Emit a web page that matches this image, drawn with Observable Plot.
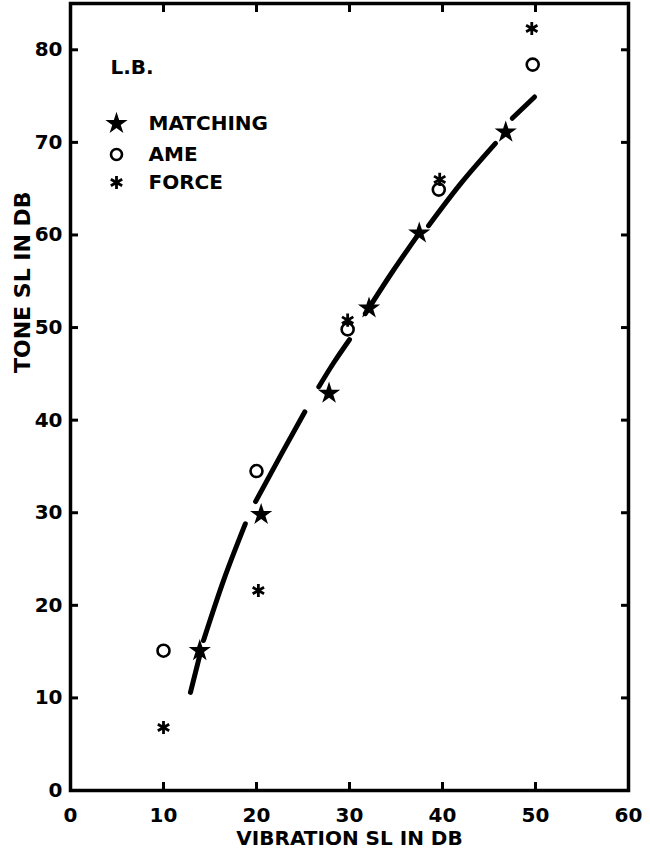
<!DOCTYPE html>
<html>
<head>
<meta charset="utf-8">
<script src="https://cdn.jsdelivr.net/npm/d3@7"></script>
<script src="https://cdn.jsdelivr.net/npm/@observablehq/plot@0.6"></script>
<style>
  html, body { margin: 0; padding: 0; background: #fff; }
  #chart svg { display: block; }
</style>
</head>
<body>
<div id="chart"></div>
<script>
// ---- data ----
const matchingX = [13.9, 20.5, 27.8, 32.1, 37.5, 46.8];
const matchingY = [15.1, 29.8, 42.9, 52.1, 60.2, 71.1];

const ameX = [10.0, 20.0, 29.8, 39.6, 49.7];
const ameY = [15.1, 34.5, 49.8, 64.9, 78.4];

const forceX = [10.0, 20.2, 29.8, 39.7, 49.6];
const forceY = [6.8, 21.6, 50.8, 66.0, 82.3];

// dashed fitted curve, as separate dash pieces
const curveSeg = ["a","a","b","b","b","c","c","c","d","d","d","e","e","e","f","f","f","g","g"];
const curveX = [12.9, 13.9, 14.3, 16.5, 18.8, 19.9, 22.6, 25.2, 26.7, 28.3, 30.0, 31.7, 34.6, 37.5, 38.5, 42.0, 45.7, 47.5, 49.9];
const curveY = [10.6, 14.6, 16.2, 22.8, 28.8, 31.2, 36.2, 40.9, 43.6, 46.2, 48.7, 51.5, 56.0, 60.2, 61.0, 65.6, 69.9, 72.6, 74.9];

const xTicks = [0, 10, 20, 30, 40, 50, 60];
const yTicks = [0, 10, 20, 30, 40, 50, 60, 70, 80];
const xInnerTicks = [10, 20, 30, 40, 50];
const yInnerTicks = [10, 20, 30, 40, 50, 60, 70, 80];

const legendLabels = ["MATCHING", "AME", "FORCE"];
const legendSymbols = ["star", "circle", "asterisk"];
const subjectLabel = "L.B.";
const xTitle = "VIBRATION SL IN DB";
const yTitle = "TONE SL IN DB";

// ---- tables ----
const matching = matchingX.map((x, i) => ({x, y: matchingY[i]}));
const ame = ameX.map((x, i) => ({x, y: ameY[i]}));
const force = forceX.map((x, i) => ({x, y: forceY[i]}));
const curve = curveX.map((x, i) => ({x, y: curveY[i], seg: curveSeg[i]}));

const FONT = "DejaVu Sans, sans-serif";
const legendDy = [120, 151, 179];
const txt = {fill: "#000", fontSize: 20, fontWeight: "bold", textAnchor: "start", lineAnchor: "middle"};
const starOpts = {r: 7, symbol: "star", fill: "#000", stroke: "none"};
const circleOpts = {r: 6, symbol: "circle", stroke: "#000", strokeWidth: 2.6, fill: "#fff"};
const asteriskOpts = {r: 6.2, symbol: "asterisk", stroke: "#000", strokeWidth: 2.8};

const legendMarks = legendLabels.flatMap((label, i) => {
  const sym = legendSymbols[i];
  const dotOpts = sym === "star" ? starOpts : sym === "circle" ? {...circleOpts, r: 5.5} : asteriskOpts;
  return [
    Plot.dot([label], {frameAnchor: "top-left", dx: 46, dy: legendDy[i], ...dotOpts}),
    Plot.text([label], {frameAnchor: "top-left", dx: 78, dy: legendDy[i], text: d => d, ...txt})
  ];
});

const chart = Plot.plot({
  width: 650,
  height: 851,
  marginLeft: 70,
  marginRight: 22,
  marginTop: 3,
  marginBottom: 61,
  style: {fontFamily: FONT, background: "#fff", color: "#000"},
  x: {domain: [0, 60], label: null},
  y: {domain: [0, 85], label: null},
  marks: [
    // tick labels
    Plot.axisX({ticks: xTicks, tickSize: 0, tickPadding: 25, label: null,
      fontSize: 20, fontWeight: "bold", fill: "#000", lineAnchor: "middle"}),
    Plot.axisY({ticks: yTicks, tickSize: 0, tickPadding: 8, label: null,
      fontSize: 20, fontWeight: "bold", fill: "#000"}),
    // inward ticks on all four sides
    Plot.axisX({anchor: "bottom", ticks: xInnerTicks, tickSize: -8, tickFormat: () => "", label: null, strokeWidth: 3, stroke: "#000"}),
    Plot.axisX({anchor: "top", ticks: xInnerTicks, tickSize: -8, tickFormat: () => "", label: null, strokeWidth: 3, stroke: "#000"}),
    Plot.axisY({anchor: "left", ticks: yInnerTicks, tickSize: -8, tickFormat: () => "", label: null, strokeWidth: 3, stroke: "#000"}),
    Plot.axisY({anchor: "right", ticks: yInnerTicks, tickSize: -8, tickFormat: () => "", label: null, strokeWidth: 3, stroke: "#000"}),
    Plot.frame({stroke: "#000", strokeWidth: 3.5}),
    // fitted dashed curve
    Plot.line(curve, {x: "x", y: "y", z: "seg", curve: "natural", stroke: "#000", strokeWidth: 5, strokeLinecap: "round"}),
    // data
    Plot.dot(ame, {x: "x", y: "y", ...circleOpts}),
    Plot.dot(force, {x: "x", y: "y", ...asteriskOpts}),
    Plot.dot(matching, {x: "x", y: "y", ...starOpts}),
    // subject label & legend
    Plot.text([subjectLabel], {frameAnchor: "top-left", dx: 40, dy: 64, text: d => d, ...txt}),
    ...legendMarks,
    // axis titles
    Plot.text([xTitle], {frameAnchor: "bottom", dy: 48, lineAnchor: "middle", text: d => d, fill: "#000", fontSize: 20, fontWeight: "bold"}),
    Plot.text([yTitle], {frameAnchor: "left", dx: -48, dy: -24, rotate: -90, text: d => d, fill: "#000", fontSize: 22, fontWeight: "bold", letterSpacing: 2})
  ]
});
document.getElementById("chart").append(chart);
</script>
</body>
</html>
